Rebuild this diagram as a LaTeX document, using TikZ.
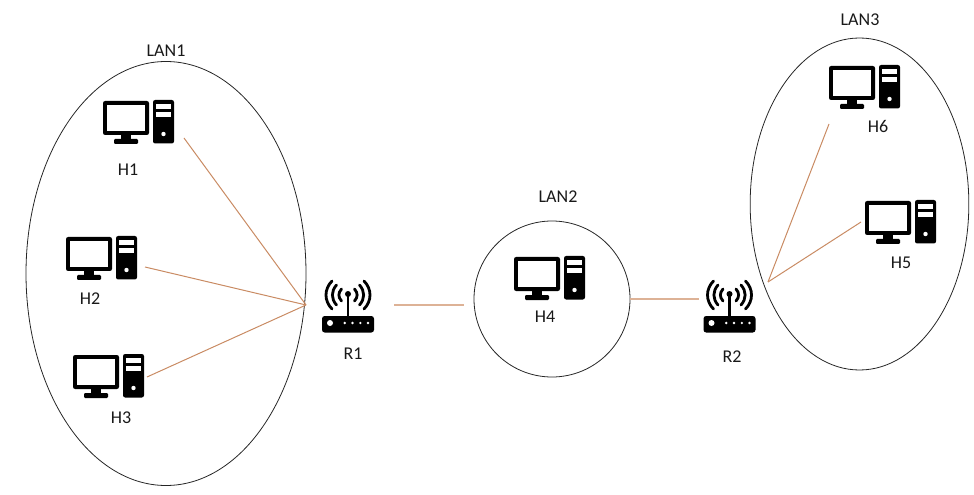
\documentclass[tikz,border=0pt]{standalone}
\usepackage{fontspec}
\setmainfont{Carlito}
\usetikzlibrary{shapes.geometric}
\definecolor{linkcol}{HTML}{C98B63}
\definecolor{palelink}{HTML}{DDB296}
\tikzset{
    lan/.style={draw=black!85, ellipse, inner sep=0pt, outer sep=0pt, line width=0.6pt},
    lbl/.style={inner sep=0pt, font=\fontsize{13.5}{15}\selectfont, text=black!90},
    link/.style={draw=linkcol, line width=0.75pt},
    flatlink/.style={draw=palelink, line width=1.3pt},
    computer/.pic={
        % monitor
        \fill[rounded corners=1.6] (0,0) rectangle (46,34);
        \fill[white] (4,4) rectangle (42,30);
        \fill (18,34) rectangle (28,39);
        \fill[rounded corners=0.8] (11,38) rectangle (35,43);
        % tower
        \fill[rounded corners=1.6] (50,-1) rectangle (71,42.5);
        \fill[white] (53,3) rectangle (68,8);
        \fill[white] (53,11) rectangle (68,16);
        \fill[white] (60.5,33) circle (2.2);
    },
    router/.pic={
        \fill[rounded corners=2] (-26,22) rectangle (26,38.5);
        \draw[line width=2.2pt] (0,0) -- (0,22);
        \fill (0,0) circle (3);
        \fill[white] (-18,29) circle (3);
        \foreach \x in {-3.3,4.5,12.4,20} {
            \fill[white] (\x,29) circle (1.3);
        }
        \foreach \s in {-1,1} {
            \draw[line width=2.1pt, line cap=round] (\s*6.5,-5) .. controls (\s*10,-1) and (\s*10,3) .. (\s*6.5,7);
            \draw[line width=2.1pt, line cap=round] (\s*11.5,-9) .. controls (\s*17,-3) and (\s*17,5) .. (\s*11.5,11);
            \draw[line width=2.1pt, line cap=round] (\s*16,-13) .. controls (\s*24,-5) and (\s*24,7) .. (\s*16,15);
        }
    },
}
\begin{document}
\begin{tikzpicture}[x=0.75pt, y=-0.75pt]
    \useasboundingbox (0,0) rectangle (974,495);

    % networks
    \node[lan, minimum width=210pt, minimum height=318pt] (lan1) at (166,273.5) {};
    \node[lan, minimum width=117pt, minimum height=117pt] (lan2) at (552,299) {};
    \node[lan, minimum width=164pt, minimum height=249pt] (lan3) at (859.5,204) {};
    \node[lbl] (lan1label) at (166,51) {LAN1};
    \node[lbl] (lan2label) at (558,197) {LAN2};
    \node[lbl] (lan3label) at (860,20) {LAN3};

    % hosts
    \pic at (103,101) {computer};
    \pic at (66,237) {computer};
    \pic at (73,355) {computer};
    \pic at (514,257) {computer};
    \pic at (865,201) {computer};
    \pic at (829,66) {computer};
    \node[lbl] (h1) at (128,170) {H1};
    \node[lbl] (h2) at (90,299) {H2};
    \node[lbl] (h3) at (121,418) {H3};
    \node[lbl] (h4) at (545,317) {H4};
    \node[lbl] (h5) at (901,263) {H5};
    \node[lbl] (h6) at (878,126) {H6};

    % routers
    \pic at (348,294) {router};
    \pic at (729.5,294) {router};
    \node[lbl] (r1) at (353,354) {R1};
    \node[lbl] (r2) at (732,357) {R2};

    % link ends
    \coordinate (h1end) at (184,138);
    \coordinate (h2end) at (145,267);
    \coordinate (h3end) at (147,377);
    \coordinate (hub1) at (306,305);
    \coordinate (r1end) at (394,305);
    \coordinate (lan2end) at (464,305);
    \coordinate (r2end) at (699,299);
    \coordinate (hub3) at (768,282);
    \coordinate (h6end) at (829,124);
    \coordinate (h5end) at (861,222);

    \draw[link] (h1end) -- (hub1);
    \draw[link] (h2end) -- (hub1);
    \draw[link] (h3end) -- (hub1);
    \draw[flatlink] (r1end) -- (lan2end);
    \draw[flatlink] (lan2.east) -- (r2end);
    \draw[link] (hub3) -- (h6end);
    \draw[link] (hub3) -- (h5end);
\end{tikzpicture}
\end{document}
